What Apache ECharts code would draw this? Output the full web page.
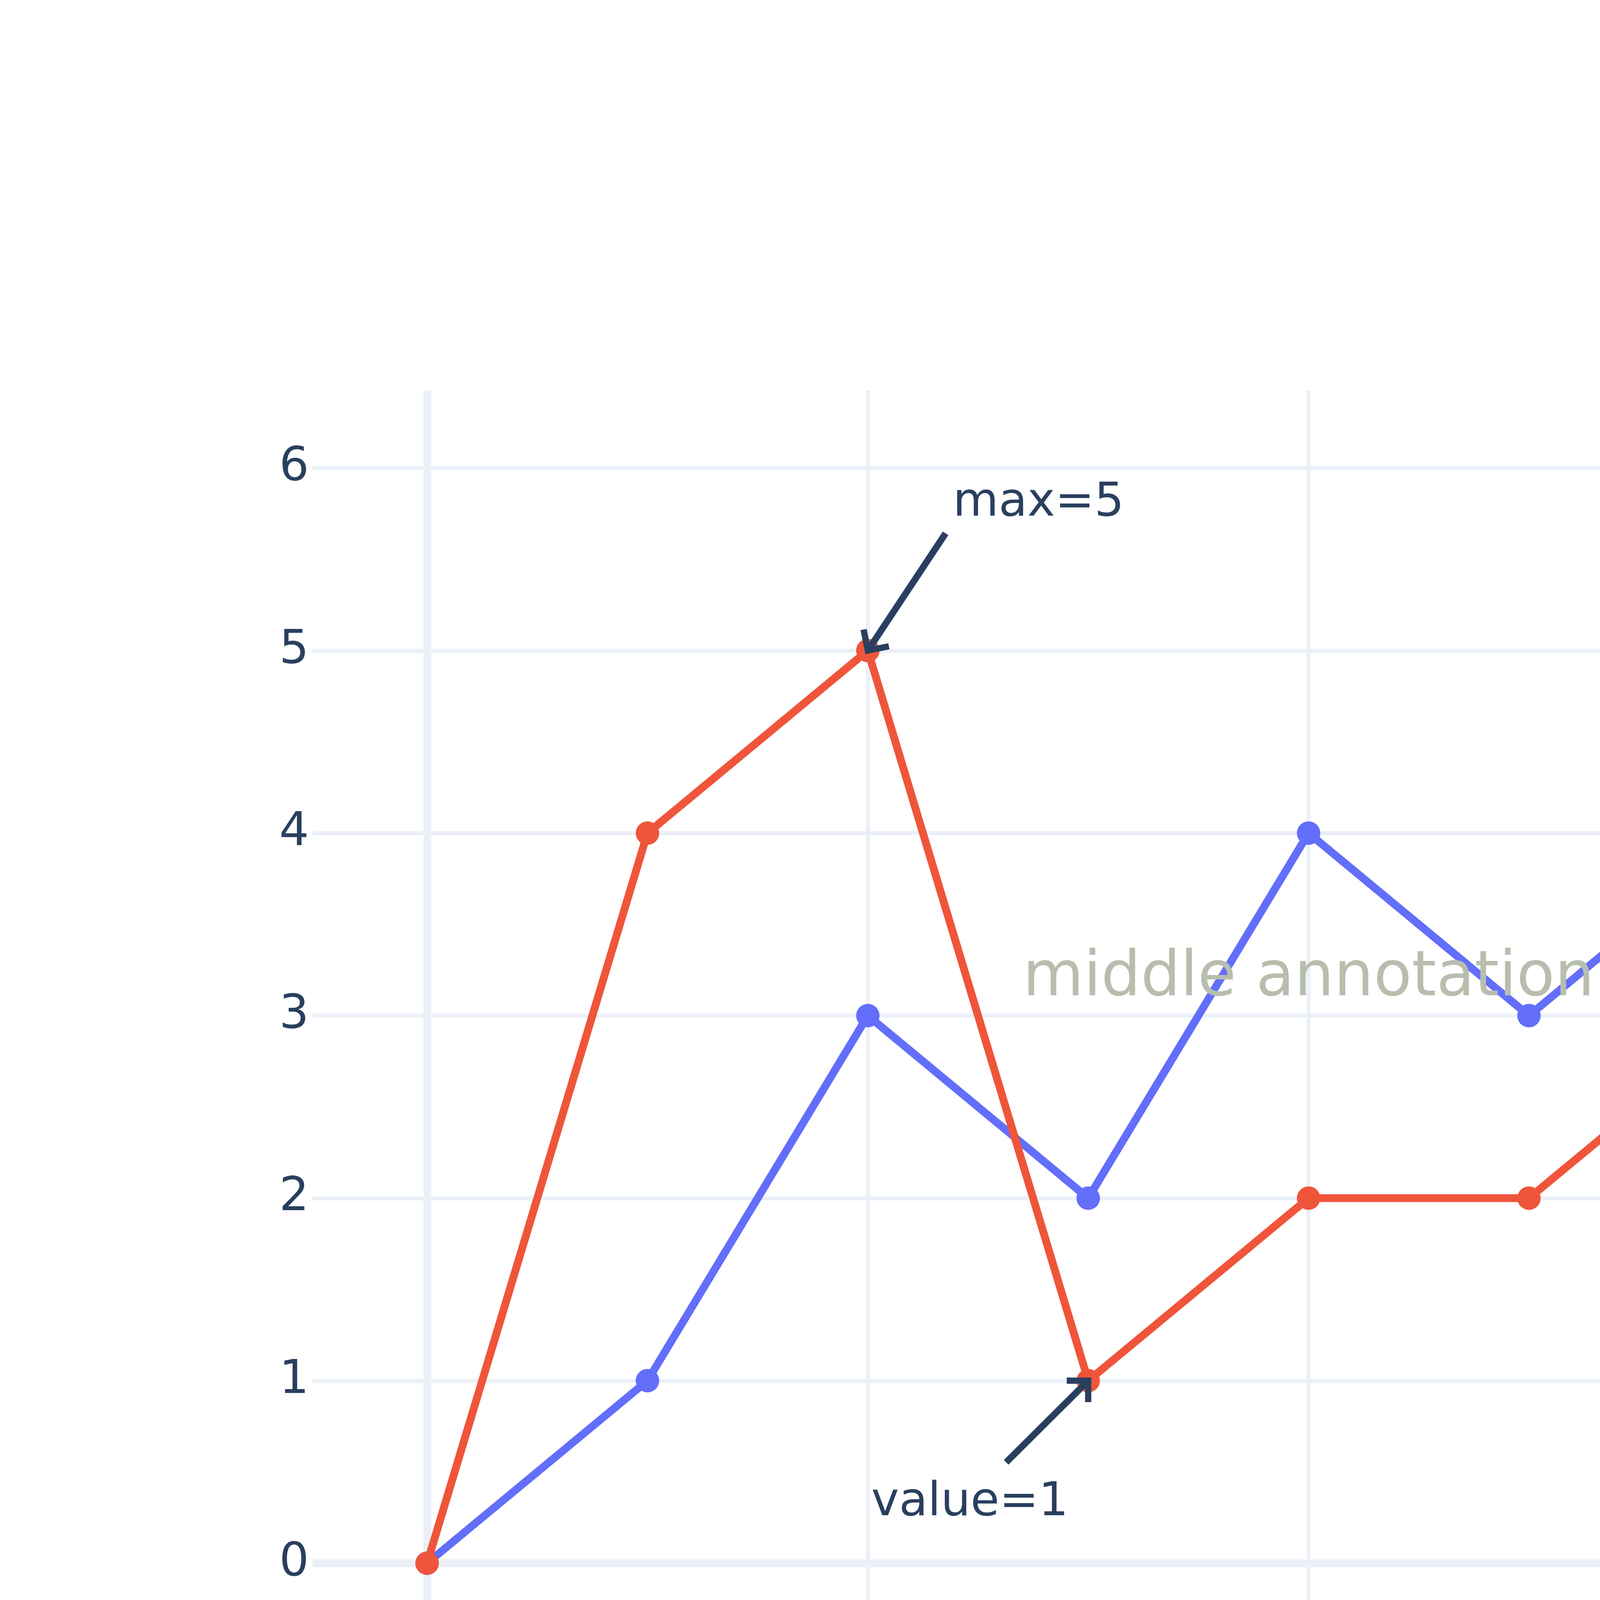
<!DOCTYPE html>
<html><head><meta charset="utf-8">
<script src="https://cdn.jsdelivr.net/npm/echarts@6/dist/echarts.min.js"></script>
<style>html,body{margin:0;padding:0;background:#fff}#c{width:7000px;height:5000px}</style>
</head><body><div id="c"></div>
<script>
// ---- data ----
const xValues = [0, 1, 2, 3, 4, 5, 6, 7, 8];
const trace0 = [0, 1, 3, 2, 4, 3, 4, 6, 5];
const trace1 = [0, 4, 5, 1, 2, 2, 3, 4, 2];
const seriesNames = ['trace 0', 'trace 1'];
const xTicks = [0, 2, 4, 6, 8];
const yTicks = [0, 1, 2, 3, 4, 5, 6];
const xRange = [-0.52, 8.52];
const yRange = [-0.424, 6.424];
const annotationPoints = [[2, 5], [3, 1]];
const annotationTexts = ['max=5', 'value=1'];
const middlePoint = [4, 3.2];
const middleText = 'middle annotation';

// ---- layout (pixel offsets / styles) ----
const arrowLayout = [
  { tail: [199, -300], label: [437, -377] },
  { tail: [-210, 209], label: [-303, 313] }
];
const FONT = '"DejaVu Sans", Verdana, sans-serif';
const TXT = '#2a3f5f';
const GRIDC = '#EBF0F8';
const COLORS = ['#636efa', '#EF553B'];

const chart = echarts.init(document.getElementById('c'), null, { renderer: 'canvas' });

const axisCommon = {
  type: 'value',
  axisLine: { show: false },
  splitLine: { show: true, lineStyle: { color: GRIDC, width: 10 } }
};

const option = {
  animation: false,
  backgroundColor: '#ffffff',
  textStyle: { fontFamily: FONT },
  grid: { left: 800, right: 1100, top: 1000, bottom: 800, containLabel: false, outerBoundsMode: 'none' },
  legend: {
    orient: 'vertical', left: 6037, top: 1073,
    itemWidth: 300, itemHeight: 75, itemGap: 59,
    data: seriesNames,
    lineStyle: { width: 20 },
    textStyle: { fontSize: 120, color: TXT, fontFamily: FONT, padding: [0, 0, 0, 47] }
  },
  xAxis: Object.assign({}, axisCommon, {
    min: xRange[0], max: xRange[1],
    axisTick: { show: false, customValues: xTicks },
    axisLabel: { customValues: xTicks, fontSize: 120, color: TXT, fontFamily: FONT, margin: 33 }
  }),
  yAxis: Object.assign({}, axisCommon, {
    min: yRange[0], max: yRange[1],
    axisTick: { show: false, customValues: yTicks },
    axisLabel: { customValues: yTicks, fontSize: 120, color: TXT, fontFamily: FONT, margin: 9 }
  }),
  series: [
    {
      type: 'line', name: 'zerolines', data: [], z: 1, silent: true,
      markLine: {
        z: 1, silent: true, symbol: 'none', label: { show: false },
        lineStyle: { color: GRIDC, width: 20, type: 'solid' },
        emphasis: { disabled: true },
        data: [{ yAxis: 0 }, { xAxis: 0 }]
      }
    },
    {
      type: 'line', name: seriesNames[0], z: 3,
      data: xValues.map((x, i) => [x, trace0[i]]),
      symbol: 'circle', symbolSize: 60,
      lineStyle: { width: 20, color: COLORS[0] },
      itemStyle: { color: COLORS[0] }
    },
    {
      type: 'line', name: seriesNames[1], z: 3,
      data: xValues.map((x, i) => [x, trace1[i]]),
      symbol: 'circle', symbolSize: 60,
      lineStyle: { width: 20, color: COLORS[1] },
      itemStyle: { color: COLORS[1] }
    }
  ]
};
chart.setOption(option);

function px(p) { return chart.convertToPixel({ gridIndex: 0 }, p); }
const graphics = [];
annotationPoints.forEach((pt, i) => {
  const p = px(pt);
  const o = arrowLayout[i];
  const t = [p[0] + o.tail[0], p[1] + o.tail[1]];
  graphics.push({ type: 'line', z: 50, silent: true,
    shape: { x1: t[0], y1: t[1], x2: p[0], y2: p[1] },
    style: { stroke: TXT, lineWidth: 17 } });
  const ang = Math.atan2(t[1] - p[1], t[0] - p[0]);
  const L = 55;
  const b1 = [p[0] + L * Math.cos(ang + Math.PI / 4), p[1] + L * Math.sin(ang + Math.PI / 4)];
  const b2 = [p[0] + L * Math.cos(ang - Math.PI / 4), p[1] + L * Math.sin(ang - Math.PI / 4)];
  graphics.push({ type: 'polyline', z: 50, silent: true,
    shape: { points: [b1, p, b2] },
    style: { stroke: TXT, lineWidth: 16, fill: null, lineJoin: 'miter' } });
  graphics.push({ type: 'text', z: 50, silent: true,
    x: p[0] + o.label[0], y: p[1] + o.label[1],
    style: { text: annotationTexts[i], fontSize: 120, fontFamily: FONT, fill: TXT, align: 'center', verticalAlign: 'middle' } });
});
const mp = px(middlePoint);
graphics.push({ type: 'text', z: 60, silent: true, x: mp[0], y: mp[1],
  style: { text: middleText, fontSize: 160, fontFamily: FONT, fill: '#b8bead', align: 'center', verticalAlign: 'middle' } });
chart.setOption({ graphic: graphics });
</script>
</body></html>
